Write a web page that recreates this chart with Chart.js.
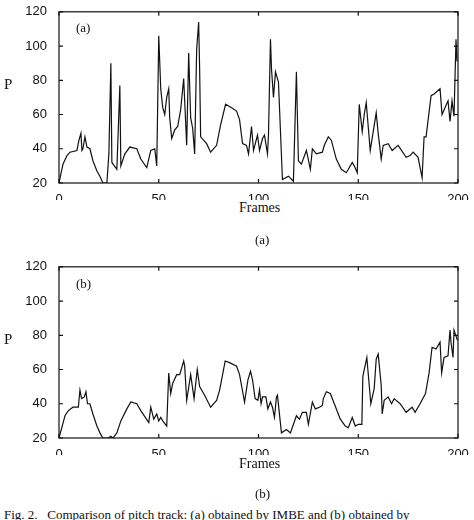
<!DOCTYPE html>
<html><head><meta charset="utf-8">
<script src="https://cdn.jsdelivr.net/npm/chart.js@4.4.1/dist/chart.umd.min.js"></script>
<style>
body{margin:0;width:474px;height:520px;background:#fff;position:relative;overflow:hidden;font-family:"Liberation Serif",serif;}
.c{position:absolute;left:0;width:474px;height:200px;}
.t{position:absolute;color:#111;white-space:nowrap;}
</style></head><body>
<div class="c" style="top:0"><canvas id="a"></canvas></div>
<div class="c" style="top:255px"><canvas id="b"></canvas></div>
<div class="t" style="left:239px;top:200px;font-size:14px">Frames</div>
<div class="t" style="left:255px;top:232px;font-size:13px">(a)</div>
<div class="t" style="left:239px;top:456px;font-size:14px">Frames</div>
<div class="t" style="left:255px;top:486px;font-size:13px">(b)</div>
<div class="t" style="left:4px;top:507px;font-size:13px">Fig. 2.&nbsp;&nbsp;&nbsp;Comparison of pitch track: (a) obtained by IMBE and (b) obtained by</div>
<div class="t" style="left:4px;top:76px;font-size:15px">P</div>
<div class="t" style="left:4px;top:331px;font-size:15px">P</div>
<div class="t" style="left:76px;top:20px;font-size:13px">(a)</div>
<div class="t" style="left:76px;top:276px;font-size:13px">(b)</div>
<script>
const yTicks=[20,40,60,80,100,120];
const xTicks=[0,50,100,150,200];
const framesA=[0,2,4,5.5,9,10,11,11.5,12,13,14,15.5,17,19,20.5,22,24,25,26,26.5,29,30.5,31,33,35.5,39,41,44,46,48,49,50,51,52,53,54,55,55.5,56.5,58,59.5,61,62.5,63,64,65,66,67,68,69,70,70.5,71,74,76,79,81,83.5,86.5,89,90.5,92,94,95,96.5,97.5,99.5,100.5,102,103,104.5,105,106,106.5,107.5,108.5,110,112,115,117.5,119,120,121.5,124,126,127,129,132,133,135,136.5,139,141.5,144,147,148,149.5,150.5,152,153,154,156,159,160,161.5,162.5,165,167,170,174,176,177.5,180,182,183,184,186.5,188,191,192,195,196,197,198,199,199.5];
const pitchA=[20,31,36,38,39,45,49,39,40,47,41,40,33,27,24,20,20,37,90,32,28,77,30,37,41,40,34,29,39,40,30,106,75,64,60,70,75,58,46,51,53,63,81,68,42,96,58,52,37,98,114,86,47,43,38,42,54,66,64,62,57,43,42,37,53,39,48,39,46,48,37,48,104,87,70,85,79,22,24,21,85,33,31,39,28,40,37,38,42,47,45,34,28,26,32,30,26,66,50,60,67,39,61,49,34,42,43,39,42,35,36,38,35,23,47,47,71,72,75,60,68,56,68,59,104,91];
const framesB=[0,3,4.7,7,9.7,10.5,11.3,12.7,13.5,14.3,15.5,17,19,20.5,22,24.7,26,27,29,31,34,36,39,41,45,46,47.5,49,50,51,52,54,55,56,57,59,60.5,62.5,63,64,66,67.7,69.3,70.5,73,76,79,80.5,81.5,83.3,85.5,89,90.5,93,94.7,96,97,98.3,99.7,100.5,101.3,102,103.7,104.7,106,107,108,109,109.5,111.5,114,116,119,120.5,122,124,125,127,128.5,130.5,132,132.5,134,136,138,141,143.5,145,147,148.5,150,151.8,152.3,154.3,156.3,158,159,160,161.5,162,163,165,166.7,168,171,174,177,178.5,181,183.7,185.5,187,189,191,191.8,193,195,196,196.5,197.5,198,199.7];
const pitchB=[20,33,36,38,38,48,43,44,47,40,40,34,27,23,20,20,21,20,23,30,37,41,40,36,29,38,31,34,30,32,30,27,58,46,52,57,57,65,62,42,57,43,60,50,45,38,42,48,54,65,64,62,57,41,54,59,54,43,42,48,40,44,44,37,41,38,32,44,45,23,25,23,33,31,35,35,28,41,37,38,39,43,47,46,40,31,27,26,32,27,28,28,56,67,40,49,66,69,51,34,42,44,40,43,40,35,38,35,40,46,58,73,72,76,58,67,68,83,76,67,83,77];
const frame={id:'frame',afterDraw(c){const a=c.chartArea,x=c.ctx,sx=c.scales.x,sy=c.scales.y;x.save();x.strokeStyle='#111';x.lineWidth=1.2;x.strokeRect(a.left,a.top,a.right-a.left,a.bottom-a.top);x.beginPath();
xTicks.forEach(v=>{const p=sx.getPixelForValue(v);x.moveTo(p,a.bottom);x.lineTo(p,a.bottom-4);x.moveTo(p,a.top);x.lineTo(p,a.top+4);});
yTicks.forEach(v=>{const p=sy.getPixelForValue(v);x.moveTo(a.left,p);x.lineTo(a.left+4,p);x.moveTo(a.right,p);x.lineTo(a.right-4,p);});
x.stroke();x.restore();}};
function make(id,fr,vals){
new Chart(document.getElementById(id),{type:'line',
data:{datasets:[{data:fr.map((f,i)=>({x:f,y:vals[i]})),borderColor:'#111',borderWidth:1.2,pointRadius:0,tension:0}]},
options:{responsive:true,maintainAspectRatio:false,animation:false,events:[],
layout:{padding:{top:8,right:16,left:0,bottom:0}},
plugins:{legend:{display:false},tooltip:{enabled:false}},
scales:{
x:{type:'linear',min:0,max:200,afterBuildTicks(s){s.ticks=xTicks.map(v=>({value:v}));},afterFit(s){s.height=17;},
grid:{display:false},border:{display:false},ticks:{color:'#111',padding:1,maxRotation:0,font:{family:'Liberation Sans',size:13}}},
y:{min:20,max:120,afterBuildTicks(s){s.ticks=yTicks.map(v=>({value:v}));},afterFit(s){s.width=59;},
grid:{display:false},border:{display:false},ticks:{color:'#111',padding:4,font:{family:'Liberation Sans',size:13}}}}},
plugins:[frame]});}
make('a',framesA,pitchA);
make('b',framesB,pitchB);
</script></body></html>
